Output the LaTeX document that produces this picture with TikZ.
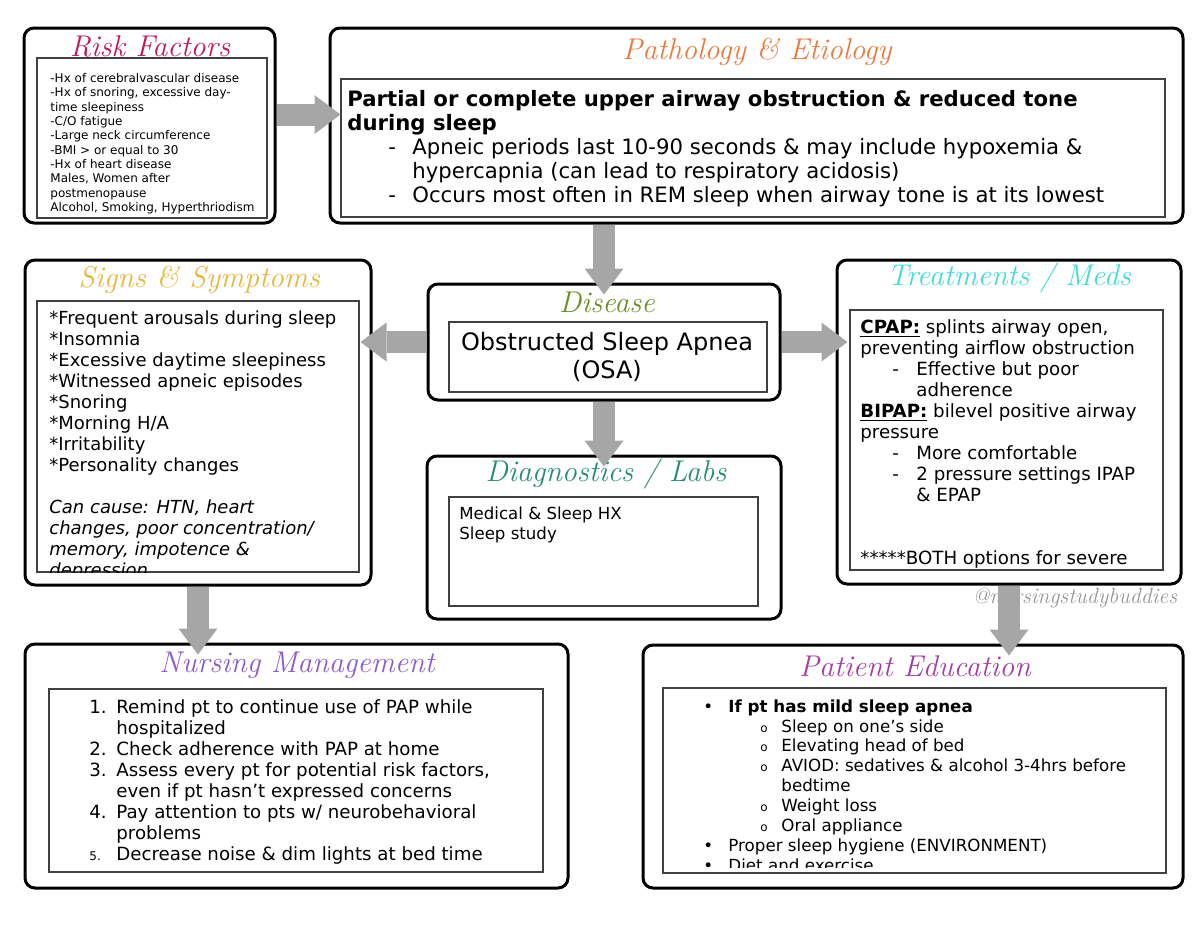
\documentclass[tikz,border=0pt]{standalone}
\usepackage{fontspec}
\usetikzlibrary{arrows.meta, positioning, fit}
\newfontfamily\notefont{DejaVu Sans}
\definecolor{risk_pink}{RGB}{194, 24, 91}
\definecolor{path_orange}{RGB}{234, 122, 62}
\definecolor{sign_gold}{RGB}{232, 182, 62}
\definecolor{disease_olive}{RGB}{108, 140, 40}
\definecolor{treat_cyan}{RGB}{64, 222, 210}
\definecolor{diag_teal}{RGB}{38, 140, 118}
\definecolor{nurse_purple}{RGB}{140, 92, 200}
\definecolor{edu_plum}{RGB}{162, 62, 164}
\definecolor{mark_grey}{RGB}{150, 150, 150}
\definecolor{arrow_grey}{RGB}{166, 166, 166}

\begin{document}
\begin{tikzpicture}[
    x=0.5pt, y=-0.5pt,
    panel/.style={
        rectangle,
        draw=black,
        line width=1.5pt,
        rounded corners=5pt,
        inner sep=0pt
    },
    inset/.style={
        rectangle,
        draw=black!75,
        line width=0.6pt,
        inner sep=0pt
    },
    heading/.style={
        text=#1,
        inner sep=0pt,
        font=\fontsize{15}{18}\selectfont\itshape
    },
    notes/.style={
        anchor=north west,
        align=left,
        inner sep=0pt
    },
    arrow/.style={
        draw=arrow_grey,
        line width=11pt,
        shorten >=-6pt,
        -{Triangle[width=19.5pt, length=13pt, line width=0pt, fill=arrow_grey]}
    }
]
\useasboundingbox (0,0) rectangle (1200,927);

% Risk Factors box
\node[panel, fit={(24,28) (275,223)}] (riskbox) {};
\node[inset, fit={(37,58) (267,218)}] (riskin) {};
\node[heading=risk_pink] (risktitle) at (150,46) {Risk Factors};
\node[notes, font=\notefont\fontsize{6}{7.17}\selectfont] (risktext) at (50,73) {%
    -Hx of cerebralvascular disease\\
    -Hx of snoring, excessive day-\\
    time sleepiness\\
    -C/O fatigue\\
    -Large neck circumference\\
    -BMI > or equal to 30\\
    -Hx of heart disease\\
    Males, Women after\\
    postmenopause\\
    Alcohol, Smoking, Hyperthriodism};

% Pathology & Etiology box
\node[panel, fit={(330,28) (1183,223)}] (pathbox) {};
\node[inset, fit={(341,79) (1165,217)}] (pathin) {};
\node[heading=path_orange] (pathtitle) at (757,52) {Pathology \& Etiology};
\node[notes, font=\notefont\fontsize{10.6}{12}\selectfont] (pathtext) at (347,90) {%
    \textbf{Partial or complete upper airway obstruction \& reduced tone}\\
    \textbf{during sleep}\\
    \hspace*{20.5pt}\makebox[12pt][l]{-}Apneic periods last 10-90 seconds \& may include hypoxemia \&\\
    \hspace*{32.5pt}hypercapnia (can lead to respiratory acidosis)\\
    \hspace*{20.5pt}\makebox[12pt][l]{-}Occurs most often in REM sleep when airway tone is at its lowest};

% Signs & Symptoms box
\node[panel, fit={(25,260) (371,585)}] (signbox) {};
\node[inset, fit={(37,301) (359,572)}] (signin) {};
\node[heading=sign_gold] (signtitle) at (199,280) {Signs \& Symptoms};
\begin{scope}
    \clip (signin.south west) rectangle (signin.north east);
    \node[notes, font=\notefont\fontsize{9}{10.5}\selectfont] (signtext) at (49,310) {%
        *Frequent arousals during sleep\\
        *Insomnia\\
        *Excessive daytime sleepiness\\
        *Witnessed apneic episodes\\
        *Snoring\\
        *Morning H/A\\
        *Irritability\\
        *Personality changes\\
        \mbox{}\\
        \textit{Can cause: HTN, heart}\\
        \textit{changes, poor concentration/}\\
        \textit{memory, impotence \&}\\
        \textit{depression}};
\end{scope}

% Disease box
\node[panel, fit={(428,284) (780,400)}] (diseasebox) {};
\node[inset, fit={(449,322) (767,392)}] (diseasein) {};
\node[heading=disease_olive] (diseasetitle) at (607,302) {Disease};
\node[align=center, inner sep=0pt, font=\notefont\fontsize{12}{14.2}\selectfont] (diseasetext)
    at (607,357) {Obstructed Sleep Apnea\\(OSA)};

% Treatments / Meds box
\node[panel, fit={(837,260) (1181,584)}] (treatbox) {};
\node[inset, fit={(850,310) (1163,570)}] (treatin) {};
\node[heading=treat_cyan] (treattitle) at (1009,278) {Treatments / Meds};
\node[notes, font=\notefont\fontsize{9.1}{10.5}\selectfont] (treattext) at (860,319) {%
    \underline{\textbf{CPAP:}} splints airway open,\\
    preventing airflow obstruction\\
    \hspace*{16pt}\makebox[12pt][l]{-}Effective but poor\\
    \hspace*{28pt}adherence\\
    \underline{\textbf{BIPAP:}} bilevel positive airway\\
    pressure\\
    \hspace*{16pt}\makebox[12pt][l]{-}More comfortable\\
    \hspace*{16pt}\makebox[12pt][l]{-}2 pressure settings IPAP\\
    \hspace*{28pt}\& EPAP\\
    \mbox{}\\
    \mbox{}\\
    *****BOTH options for severe};

% Diagnostics / Labs box
\node[panel, fit={(427,456) (781,619)}] (diagbox) {};
\node[inset, fit={(449,497) (758,606)}] (diagin) {};
\node[heading=diag_teal] (diagtitle) at (606,474) {Diagnostics / Labs};
\node[notes, font=\notefont\fontsize{8.3}{10}\selectfont] (diagtext) at (459,506) {%
    Medical \& Sleep HX\\
    Sleep study};

% Nursing Management box
\node[panel, fit={(25,644) (568,888)}] (nursebox) {};
\node[inset, fit={(49,689) (543,872)}] (nursein) {};
\node[heading=nurse_purple] (nursetitle) at (297,665) {Nursing Management};
\node[notes, font=\notefont\fontsize{9.1}{10.5}\selectfont] (nursetext) at (89,699) {%
    \makebox[13.5pt][l]{1.}Remind pt to continue use of PAP while\\
    \hspace*{13.5pt}hospitalized\\
    \makebox[13.5pt][l]{2.}Check adherence with PAP at home\\
    \makebox[13.5pt][l]{3.}Assess every pt for potential risk factors,\\
    \hspace*{13.5pt}even if pt hasn’t expressed concerns\\
    \makebox[13.5pt][l]{4.}Pay attention to pts w/ neurobehavioral\\
    \hspace*{13.5pt}problems\\
    \makebox[13.5pt][l]{\fontsize{6}{7}\selectfont 5.}Decrease noise \& dim lights at bed time};

% Patient Education box
\node[panel, fit={(643,645) (1183,888)}] (edubox) {};
\node[inset, fit={(663,688) (1166,873)}] (eduin) {};
\node[heading=edu_plum] (edutitle) at (915,666) {Patient Education};
\begin{scope}
    \clip ([yshift=3pt]eduin.south west) rectangle (eduin.north east);
    \node[notes, font=\notefont\fontsize{8.35}{9.95}\selectfont] (edutext) at (703,699) {%
        \makebox[12.5pt][l]{•}\textbf{If pt has mild sleep apnea}\\
        \hspace*{28.5pt}\makebox[10.5pt][l]{\fontsize{6}{7}\selectfont o}Sleep on one’s side\\
        \hspace*{28.5pt}\makebox[10.5pt][l]{\fontsize{6}{7}\selectfont o}Elevating head of bed\\
        \hspace*{28.5pt}\makebox[10.5pt][l]{\fontsize{6}{7}\selectfont o}AVIOD: sedatives \& alcohol 3-4hrs before\\
        \hspace*{39pt}bedtime\\
        \hspace*{28.5pt}\makebox[10.5pt][l]{\fontsize{6}{7}\selectfont o}Weight loss\\
        \hspace*{28.5pt}\makebox[10.5pt][l]{\fontsize{6}{7}\selectfont o}Oral appliance\\
        \makebox[12.5pt][l]{•}Proper sleep hygiene (ENVIRONMENT)\\
        \makebox[12.5pt][l]{•}Diet and exercise};
\end{scope}

% watermark
\node[inner sep=0pt, text=mark_grey, font=\fontsize{11}{13}\selectfont\itshape] (mark)
    at (1075,598) {@nursingstudybuddies};

% Arrows
\draw[arrow] ([yshift=5.5pt]riskbox.east) -- ([yshift=5.5pt]pathbox.west);
\draw[arrow] (pathbox.south -| diseasebox.north) -- (diseasebox.north);
\draw[arrow] (diseasebox.west) -- (diseasebox.west -| signbox.east);
\draw[arrow] (diseasebox.east) -- (diseasebox.east -| treatbox.west);
\draw[arrow] (diseasebox.south) -- (diagbox.north);
\draw[arrow] (signbox.south) -- (signbox.south |- nursebox.north);
\draw[arrow] (treatbox.south) -- (treatbox.south |- edubox.north);

\end{tikzpicture}
\end{document}
